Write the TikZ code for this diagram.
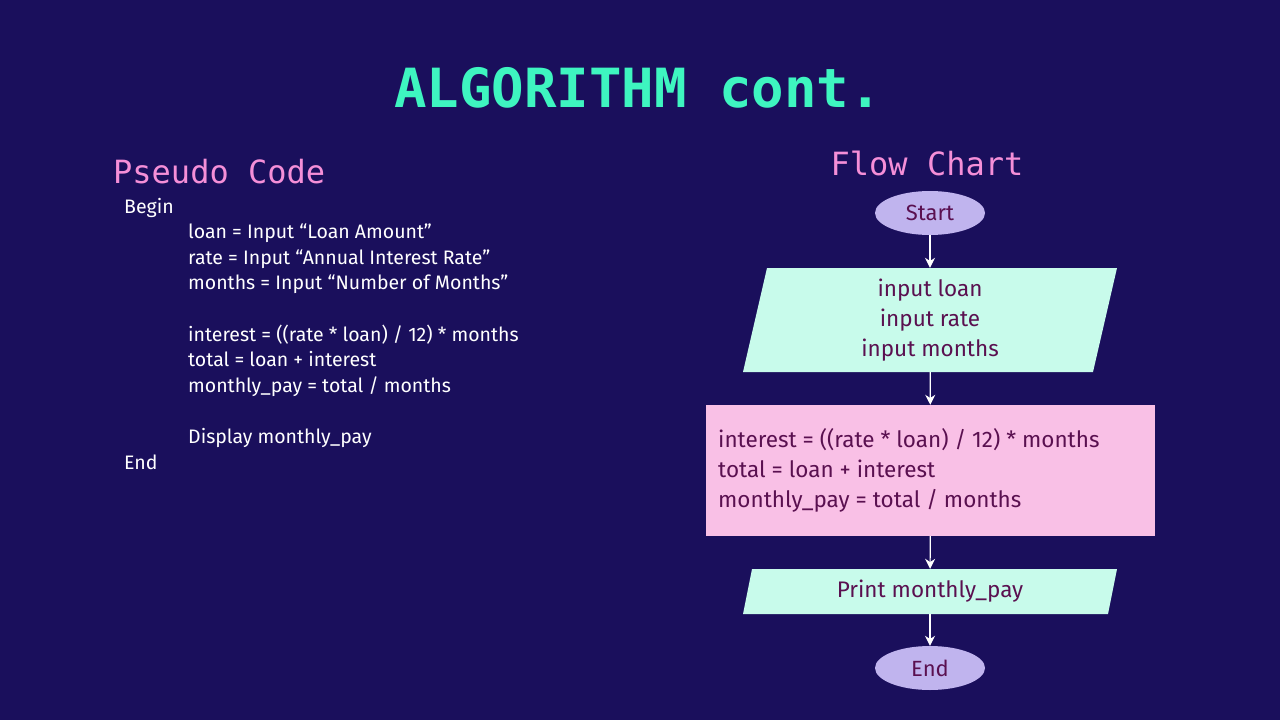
\documentclass[tikz,border=0pt]{standalone}
\usepackage{fontspec}
\setmainfont{Fira Sans}
\newfontfamily\monof{DejaVu Sans Mono}
\usetikzlibrary{shapes.geometric,arrows.meta}
\definecolor{bg}{HTML}{1A0F5C}
\definecolor{mint}{HTML}{3EF5C0}
\definecolor{pinkh}{HTML}{F58FD8}
\definecolor{lav}{HTML}{C0B4EE}
\definecolor{mintf}{HTML}{C8FBEB}
\definecolor{pinkf}{HTML}{F9C0E6}
\definecolor{ink}{HTML}{5A1050}
\begin{document}
\begin{tikzpicture}[x=1pt,y=-1pt,
  code/.style={anchor=base west,text=white,font=\fontsize{19.5}{20}\selectfont,inner sep=0},
  ftxt/.style={text=ink,font=\fontsize{22.5}{30}\selectfont,inner sep=0,align=center},
  oval/.style={ellipse,fill=lav,minimum width=110pt,minimum height=44pt,text=ink,font=\fontsize{22}{24}\selectfont,inner sep=0},
  arr/.style={white,line width=1.2pt,-{Stealth[length=10pt,width=10pt]}},
  head/.style={font=\monof\fontsize{32}{36}\selectfont,text=pinkh,inner sep=0}]
\fill[bg] (0,0) rectangle (1280,720);
\useasboundingbox (0,0) rectangle (1280,720);
\node[font=\monof\bfseries\fontsize{54}{60}\selectfont,text=mint,inner sep=0] (title) at (638,88) {ALGORITHM cont.};
\node[head,anchor=west] (pc) at (113,172) {Pseudo Code};
\node[head] (fc) at (927,163) {Flow Chart};
\node[code] (c0) at (124,213) {Begin};
\node[code] (c1) at (188,238) {loan = Input “Loan Amount”};
\node[code] (c2) at (188,264) {rate = Input “Annual Interest Rate”};
\node[code] (c3) at (188,289) {months = Input “Number of Months”};
\node[code] (c4) at (188,341) {interest = ((rate * loan) / 12) * months};
\node[code] (c5) at (188,366) {total = loan + interest};
\node[code] (c6) at (188,392) {monthly\_pay = total / months};
\node[code] (c7) at (188,443) {Display monthly\_pay};
\node[code] (c8) at (124,469) {End};
% shapes
\fill[mintf] (767,268) -- (1117,268) -- (1093,372) -- (743,372) -- cycle;
\fill[pinkf] (706,405) rectangle (1155,536);
\fill[mintf] (752,569) -- (1117,569) -- (1108,614) -- (743,614) -- cycle;
\node[oval] (start) at (930,213) {Start};
\node[ftxt,minimum width=350pt,minimum height=104pt] (in) at (930,320) {input loan\\input rate\\input months};
\node[minimum width=449pt,minimum height=131pt,inner sep=0] (proc) at (930.5,470.5) {};
\node[ftxt,align=left,anchor=west] (proct) at (718,470) {interest = ((rate * loan) / 12) * months\\total = loan + interest\\monthly\_pay = total / months};
\node[ftxt,minimum width=365pt,minimum height=45pt] (pr) at (930,591.5) {Print monthly\_pay};
\node[oval] (end) at (930,668) {End};
\draw[arr] (start) -- (in);
\draw[arr] (in) -- (proc);
\draw[arr] (proc) -- (pr);
\draw[arr] (pr) -- (end);
\end{tikzpicture}
\end{document}
